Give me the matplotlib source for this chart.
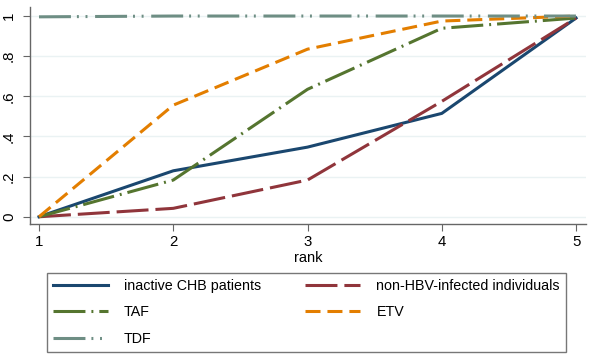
import numpy as np
import matplotlib.pyplot as plt

plt.rcParams['font.family'] = ['Liberation Sans', 'DejaVu Sans']
plt.rcParams['lines.scale_dashes'] = False

# cumulative ranking probabilities by rank
rank = [1, 2, 3, 4, 5]
inactive_chb = [0.0, 0.229, 0.347, 0.515, 0.99]
non_hbv = [0.0, 0.042, 0.183, 0.575, 0.99]
taf = [0.0, 0.183, 0.635, 0.939, 0.99]
etv = [0.0, 0.556, 0.835, 0.975, 1.0]
tdf = [0.996, 1.0, 1.0, 1.0, 1.0]

yticks = [0, 0.2, 0.4, 0.6, 0.8, 1.0]
ytick_labels = ['0', '.2', '.4', '.6', '.8', '1']

fig = plt.figure(figsize=(5.91, 3.57), dpi=100)
ax = fig.add_axes([30/591, 1 - 224/357, 556/591, 217/357])

lw = 2.2
l1, = ax.plot(rank, inactive_chb, color='#1a476f', lw=lw, label='inactive CHB patients')
l2, = ax.plot(rank, non_hbv, color='#90353b', lw=lw, dashes=(23, 5),
              label='non-HBV-infected individuals')
l3, = ax.plot(rank, taf, color='#55752f', lw=lw, dashes=(23, 4.3, 1.4, 4.3), label='TAF')
l4, = ax.plot(rank, etv, color='#e37e00', lw=lw, dashes=(10.8, 5), label='ETV')
l5, = ax.plot(rank, tdf, color='#6e8e84', lw=lw,
              dashes=(23, 4.3, 1.4, 4.8, 1.4, 5.5), label='TDF')

ax.set_xlim(0.933, 5.074)
ax.set_ylim(-0.036, 1.045)
ax.set_xticks(rank)
ax.set_yticks(yticks)
ax.set_yticklabels(ytick_labels, rotation=90, va='center')
ax.grid(axis='y', color='#eaf2f3', lw=1)
ax.set_axisbelow(True)

for s in ['top', 'right']:
    ax.spines[s].set_visible(False)
for s in ['left', 'bottom']:
    ax.spines[s].set_color('#666666')
    ax.spines[s].set_linewidth(1)
ax.tick_params(axis='both', labelsize=10.8, colors='#666666', labelcolor='black',
               length=5, direction='out')
ax.tick_params(axis='y', pad=5)
ax.tick_params(axis='x', pad=3)
ax.set_xlabel('rank', fontsize=10.5, labelpad=1)

leg = fig.legend([l1, l3, l5, l2, l4],
                 ['inactive CHB patients', 'TAF', 'TDF',
                  'non-HBV-infected individuals', 'ETV'],
                 ncol=2, loc='upper left', bbox_to_anchor=(46.7/591, 1 - 272.7/357),
                 fontsize=10.3, frameon=True, fancybox=False, handlelength=3.85,
                 handletextpad=1.12, columnspacing=3.1, borderpad=0.42,
                 labelspacing=0.87, borderaxespad=0)
leg.get_frame().set_edgecolor('#555555')
leg.get_frame().set_linewidth(1)

fig.savefig('out.png', dpi=100)
